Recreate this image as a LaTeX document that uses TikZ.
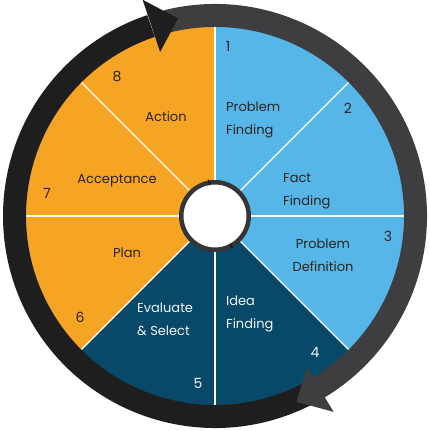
\documentclass[tikz,border=0pt]{standalone}
\usepackage{fontspec}
\setmainfont{Poppins}
\usetikzlibrary{calc}
\definecolor{orng}{HTML}{F5A423}
\definecolor{lblue}{HTML}{57B6E8}
\definecolor{dteal}{HTML}{08496A}
\definecolor{ringgray}{HTML}{3E3E40}
\definecolor{ringblack}{HTML}{1E1E1F}
\definecolor{darktext}{HTML}{2A2420}
\definecolor{lighttext}{HTML}{EEF4F7}
\begin{document}
\begin{tikzpicture}[x=1pt,y=1pt,
  divider/.style={draw=white!96!yellow, line width=1.3pt},
  lbl/.style={font=\fontsize{13}{23}\selectfont, inner sep=0pt},
  num/.style={font=\fontsize{14}{16}\selectfont, inner sep=0pt},
  dk/.style={text=darktext},
  lt/.style={text=lighttext}]
\useasboundingbox (0,0) rectangle (430,431);
\coordinate (C) at (215,215);
% sectors
\fill[lblue] (C) -- ++(90:190) arc[start angle=90,end angle=-45,radius=190] -- cycle;
\fill[dteal] (C) -- ++(-45:190) arc[start angle=-45,end angle=-135,radius=190] -- cycle;
\fill[orng] (C) -- ++(-135:190) arc[start angle=-135,end angle=-270,radius=190] -- cycle;
% dividers
\foreach \a in {90,45,0,-45,-90,-135,180,135}
  \draw[divider] (C) -- ++(\a:190);
% outer ring
\draw[ringgray, line width=23pt] (C) ++(104:200.5) arc[start angle=104,end angle=-59,radius=200.5];
\draw[ringblack, line width=23pt] (C) ++(-62:200.5) arc[start angle=-62,end angle=-251.4,radius=200.5];
% arrow heads
\fill[ringblack] ($(C)+(108.5:173)$) -- ($(C)+(108.5:228)$) -- ($(C)+(100.6:201)$) -- cycle;
\fill[ringgray] ($(C)+(-58.8:177)$) -- ($(C)+(-58.8:229)$) -- ($(C)+(-66.3:203)$) -- cycle;
% hole
\fill[white] (C) circle (33.5);
\draw[ringblack!90, line width=4.5pt] (C) circle (33.75);
\fill[ringblack] ($(C)+(101:31)$) -- ($(C)+(101:37.5)$) -- ($(C)+(96:34)$) -- cycle;
\fill[ringblack] ($(C)+(-60:31)$) -- ($(C)+(-60:37.5)$) -- ($(C)+(-65:34)$) -- cycle;
% labels
\node[lbl,dk,anchor=west,align=left] (pf) at (226,311.5) {Problem\\Finding};
\node[lbl,dk,anchor=west,align=left] (ff) at (283,240) {Fact\\Finding};
\node[lbl,dk,align=center] (pd) at (323,175.5) {Problem\\Definition};
\node[lbl,lt,anchor=west,align=left] (idf) at (226,117.5) {Idea\\Finding};
\node[lbl,lt,anchor=west,align=left] (es) at (137,112) {Evaluate\\\&~Select};
\node[lbl,dk] (pl) at (127,178) {Plan};
\node[lbl,dk] (ac) at (117,250) {Acceptance};
\node[lbl,dk] (act) at (166,314) {Action};
% numbers
\node[num,dk] (n1) at (228,385) {1};
\node[num,dk] (n2) at (348,323) {2};
\node[num,dk] (n3) at (388,195) {3};
\node[num,lt] (n4) at (315,79) {4};
\node[num,lt] (n5) at (198,48) {5};
\node[num,dk] (n6) at (80,114) {6};
\node[num,dk] (n7) at (47,238) {7};
\node[num,dk] (n8) at (117,354) {8};
\end{tikzpicture}
\end{document}
